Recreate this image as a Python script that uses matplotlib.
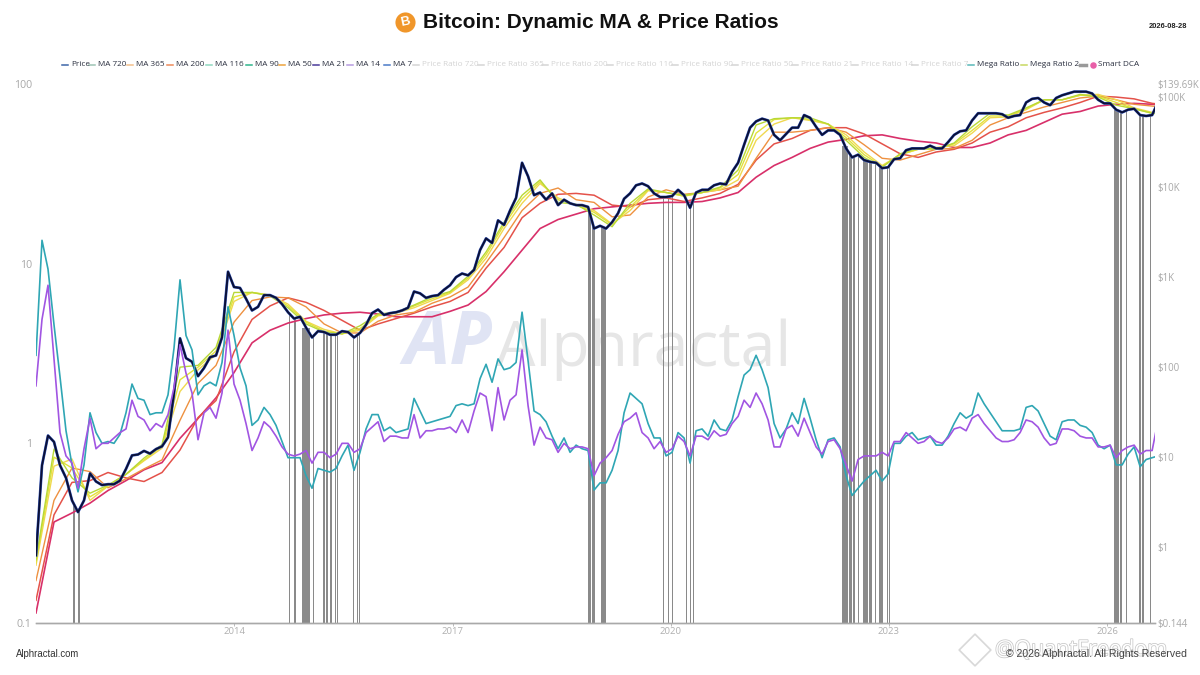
import numpy as np
import matplotlib
matplotlib.use("Agg")
import matplotlib.pyplot as plt
import matplotlib.patheffects as pe

# all price series are log10(USD), ratios are log10(ratio)
# fast series are sampled about every 30 days, the MAs about every 90 days
price_log = [
    -.09, .91, 1.24, 1.17, .91, .77, .52, .39, .52, .82, .73, .69, .70, .70, .74, .87, 1.02, 1.03, 1.07, 1.04,
    1.09, 1.12, 1.22, 1.71, 2.32, 2.10, 2.06, 1.90, 1.99, 2.11, 2.13, 2.33, 3.06, 2.89, 2.88, 2.76, 2.63, 2.67,
    2.80, 2.80, 2.77, 2.70, 2.61, 2.54, 2.56, 2.44, 2.33, 2.40, 2.39, 2.36, 2.36, 2.40, 2.39, 2.33, 2.38, 2.47,
    2.60, 2.64, 2.58, 2.60, 2.61,
    2.63, 2.66, 2.84, 2.82, 2.77, 2.79, 2.80, 2.86, 2.91, 3.00, 3.04, 3.02, 3.08, 3.30, 3.43, 3.38, 3.63, 3.58,
    3.74, 3.88, 4.27, 4.12, 3.91, 3.94, 3.86, 3.93, 3.80, 3.86, 3.82, 3.80, 3.80, 3.78, 3.54, 3.57, 3.54, 3.61,
    3.71, 3.87, 3.93, 4.02, 4.04, 4.01, 3.93, 3.89, 3.89, 3.90, 3.97, 3.91, 3.77, 3.94, 3.97, 3.97, 4.02, 4.04,
    4.03, 4.17, 4.27, 4.47, 4.66, 4.73, 4.76, 4.74, 4.58, 4.52, 4.59, 4.66, 4.66, 4.80, 4.77, 4.67, 4.58, 4.63,
    4.63, 4.58, 4.43, 4.33, 4.36, 4.30, 4.28, 4.27, 4.21, 4.22, 4.31, 4.32, 4.41, 4.43, 4.43, 4.43, 4.46, 4.43,
    4.43, 4.50, 4.58, 4.62, 4.63, 4.74, 4.82, 4.82, 4.82, 4.82, 4.81, 4.77, 4.79, 4.80, 4.94, 4.98, 4.99, 4.94,
    4.91, 4.99, 5.02, 5.04, 5.06, 5.06, 5.06, 5.04, 4.97, 4.93, 4.93, 4.86, 4.83, 4.86, 4.87, 4.80, 4.79, 4.80,
    4.95,
]
mega_ratio_log = [
    .49, 1.13, .97, .66, .37, .07, -.12, -.27, -.12, .17, .06, 0, .01, 0, .05, .17, .33, .25, .24, .16, .17, .17,
    .27, .53, .91, .60, .52, .27, .32, .34, .32, .45, .76, .60, .42, .32, .10, .13, .20, .16, .10, .01, -.08, -.08,
    -.08, -.18, -.25, -.14, -.15, -.16, -.14, -.07, -.01, -.15, -.05, .08, .16, .16, .07, .09, .06,
    .07, .08, .25, .18, .11, .12, .13, .14, .15, .21, .22, .21, .22, .36, .44, .34, .47, .41, .42, .45, .73, .46,
    .18, .16, .12, .04, -.03, .03, -.05, -.01, -.03, -.04, -.26, -.22, -.22, -.15, -.04, .17, .28, .25, .22, .11,
    .03, .03, -.07, -.05, .06, .03, -.11, .07, .08, .04, .13, .08, .07, .13, .26, .38, .41, .49, .41, .31, .11, .03,
    .08, .17, .11, .25, .14, .02, -.08, .02, .03, -.02, -.18, -.29, -.25, -.21, -.18, -.15, -.21, -.17, 0, 0, .04,
    .06, .02, .03, .04, -.01, -.01, .04, .11, .17, .14, .16, .28, .22, .17, .12, .07, .07, .07, .08, .20, .21, .18,
    .11, .04, .02, .12, .13, .13, .10, .09, .06, -.01, -.03, -.01, -.12, -.12, -.06, -.02, -.13, -.09, -.08, -.07,
]
mega_ratio_2_log = [
    .32, .69, .88, .47, .06, -.07, -.11, -.25, -.03, .14, -.03, 0, 0, .03, .06, .08, .24, .15, .13, .07, .11, .09,
    .16, .31, .55, .39, .28, .02, .17, .20, .14, .28, .63, .33, .24, .11, -.04, .03, .12, .09, .04, -.02, -.06, -.07,
    -.06, -.04, -.11, -.05, -.05, -.08, -.06, 0, 0, -.05, -.03, .06, .09, .12, .01, .04, .04,
    .03, .03, .16, .03, .07, .07, .08, .08, .09, .06, .13, .06, .18, .28, .26, .07, .31, .13, .24, .27, .52, .21,
    -.01, .09, .03, .02, -.05, 0, -.03, -.02, -.02, -.03, -.18, -.11, -.08, -.04, .05, .12, .14, .17, .06, .03,
    -.03, .01, -.05, -.03, .04, .01, -.07, .04, .04, .02, .07, .04, .05, .11, .15, .24, .20, .28, .22, .13, -.02, -.02,
    .08, .10, .04, .14, .06, -.02, -.06, .01, .02, -.03, -.12, -.21, -.09, -.07, -.07, -.07, -.05, -.07, .01, .01, .06,
    .03, 0, .01, .04, .01, 0, .03, .08, .09, .07, .14, .16, .11, .07, .03, .01, .01, .02, .06, .13, .12, .09,
    .03, -.01, 0, .08, .08, .07, .04, .03, .03, -.02, -.02, -.01, -.08, -.04, -.02, -.01, -.06, -.04, -.04, .13,
]
ma_720_log = [
    -.73, .28, .38, .49, .63, .74, .86, .94, 1.21, 1.43, 1.66, 1.94, 2.27, 2.41, 2.49, 2.54, 2.58, 2.60, 2.61, 2.59, 2.56,
    2.56, 2.56, 2.62, 2.69, 2.84, 3.06, 3.30, 3.54, 3.64, 3.70, 3.76, 3.78,
    3.80, 3.82, 3.83, 3.83, 3.84, 3.88, 3.94, 4.11, 4.24, 4.33, 4.43, 4.50, 4.53, 4.57, 4.58, 4.54, 4.51, 4.49, 4.44,
    4.44, 4.49, 4.58, 4.63, 4.72, 4.81, 4.84, 4.90, 4.92, 4.93, 4.92, 4.91,
]
ma_365_log = [
    -.59, .36, .72, .74, .83, .77, .73, .83, 1.08, 1.44, 1.63, 2.17, 2.53, 2.68, 2.77, 2.72, 2.63, 2.52, 2.41, 2.48, 2.54,
    2.60, 2.67, 2.73, 2.83, 3.10, 3.33, 3.66, 3.82, 3.92, 3.93, 3.91, 3.80,
    3.78, 3.86, 3.88, 3.84, 3.88, 3.93, 4.03, 4.30, 4.48, 4.54, 4.63, 4.66, 4.66, 4.59, 4.48, 4.37, 4.33, 4.39, 4.42,
    4.49, 4.61, 4.67, 4.77, 4.83, 4.88, 4.94, 5.01, 5.00, 4.98, 4.93, 4.91,
]
ma_200_log = [
    -.37, .52, .88, .84, .66, .76, .87, .97, 1.41, 1.82, 2.02, 2.50, 2.74, 2.78, 2.77, 2.67, 2.48, 2.38, 2.38, 2.51, 2.58,
    2.61, 2.71, 2.78, 2.89, 3.16, 3.44, 3.74, 3.93, 3.99, 3.86, 3.83, 3.67,
    3.69, 3.89, 3.97, 3.92, 3.94, 3.97, 4.01, 4.32, 4.61, 4.61, 4.63, 4.66, 4.61, 4.47, 4.32, 4.30, 4.36, 4.42, 4.43,
    4.52, 4.69, 4.77, 4.83, 4.89, 4.94, 4.99, 5.01, 4.97, 4.92, 4.90, 4.88,
]
ma_116_log = [
    -.2, .90, .98, .52, .68, .81, .96, 1.10, 1.73, 1.97, 2.14, 2.73, 2.83, 2.80, 2.70, 2.51, 2.42, 2.37, 2.41, 2.57, 2.60,
    2.66, 2.74, 2.82, 2.97, 3.21, 3.54, 3.82, 4.04, 3.88, 3.80, 3.74, 3.59,
    3.74, 3.96, 3.94, 3.90, 3.94, 3.97, 4.08, 4.52, 4.70, 4.77, 4.74, 4.70, 4.58, 4.39, 4.24, 4.36, 4.42, 4.44, 4.46,
    4.60, 4.77, 4.78, 4.86, 4.97, 4.97, 5.02, 5.03, 4.97, 4.88, 4.83, 4.82,
]
ma_90_log = [
    -.17, 1.00, .88, .56, .68, .81, .97, 1.12, 1.86, 2.00, 2.18, 2.78, 2.83, 2.80, 2.68, 2.50, 2.40, 2.37, 2.43, 2.58, 2.60,
    2.68, 2.76, 2.83, 2.99, 3.25, 3.58, 3.87, 4.06, 3.86, 3.80, 3.72, 3.58,
    3.78, 3.97, 3.94, 3.90, 3.94, 3.99, 4.14, 4.60, 4.75, 4.77, 4.75, 4.70, 4.55, 4.36, 4.23, 4.36, 4.42, 4.43, 4.48,
    4.63, 4.79, 4.79, 4.87, 4.97, 4.97, 5.02, 5.01, 4.94, 4.87, 4.82, 4.81,
]
ma_50_log = [
    -.14, 1.09, .77, .60, .69, .81, .99, 1.14, 2.00, 2.02, 2.22, 2.83, 2.83, 2.79, 2.66, 2.48, 2.39, 2.37, 2.46, 2.59, 2.61,
    2.69, 2.78, 2.84, 3.01, 3.28, 3.61, 3.91, 4.08, 3.83, 3.81, 3.69, 3.56,
    3.82, 3.98, 3.94, 3.91, 3.94, 4.00, 4.19, 4.69, 4.76, 4.77, 4.77, 4.70, 4.52, 4.33, 4.22, 4.37, 4.43, 4.42, 4.49,
    4.67, 4.82, 4.80, 4.88, 4.97, 4.97, 5.03, 5.00, 4.91, 4.87, 4.82, 4.81,
]
# smart dca buy windows, decimal years
dca_start = [2011.779, 2011.848, 2014.75, 2014.819, 2014.929, 2015.073, 2015.218, 2015.259, 2015.314, 2015.376, 2015.41,
             2015.623, 2015.678, 2015.706, 2018.863, 2018.918, 2019.042, 2019.894, 2019.963, 2020.011, 2020.204,
             2020.266, 2020.307, 2022.357, 2022.453, 2022.508, 2022.577, 2022.645, 2022.728, 2022.81, 2022.865,
             2022.976, 2023.003, 2026.098, 2026.18, 2026.256, 2026.442, 2026.483, 2026.593, 2026.627]
dca_end = [2011.80, 2011.869, 2014.764, 2014.84, 2015.039, 2015.094, 2015.245, 2015.286, 2015.341, 2015.397, 2015.424,
           2015.644, 2015.699, 2015.727, 2018.904, 2018.959, 2019.11, 2019.908, 2019.977, 2020.032, 2020.224,
           2020.28, 2020.321, 2022.439, 2022.494, 2022.535, 2022.59, 2022.714, 2022.769, 2022.824, 2022.92,
           2022.989, 2023.017, 2026.167, 2026.208, 2026.277, 2026.47, 2026.511, 2026.603, 2026.638]

left_ticks = [0.1, 1, 10, 100]
right_ticks = [0.144, 1, 10, 100, 1000, 10000, 100000, 139690]
right_labels = ["$0.144", "$1", "$10", "$100", "$1K", "$10K", "$100K", "$139.69K"]
year_ticks = [2014, 2017, 2020, 2023, 2026]

legend_names = ["Price", "MA 720", "MA 365", "MA 200", "MA 116", "MA 90", "MA 50", "MA 21", "MA 14", "MA 7",
                "Price Ratio 720", "Price Ratio 365", "Price Ratio 200", "Price Ratio 116", "Price Ratio 90",
                "Price Ratio 50", "Price Ratio 21", "Price Ratio 14", "Price Ratio 7", "Mega Ratio", "Mega Ratio 2"]
legend_colors = ["#3d66a8", "#9cc3b4", "#f3c08c", "#ee8a5a", "#8fd8c0", "#2fb58c", "#eda33c", "#4a3a9a", "#b69be0",
                 "#4a7ac8", "#d5d5d5", "#d5d5d5", "#d5d5d5", "#d5d5d5", "#d5d5d5", "#d5d5d5", "#d5d5d5", "#d5d5d5",
                 "#d5d5d5", "#58b8b8", "#c8d860"]
legend_marks = [65, 92, 130, 170, 209, 249, 282, 316, 350, 387, 416, 481, 545, 610, 675, 735, 795, 855, 915, 971, 1024]

T0, T1 = 2011.27, 2026.66
FAST, SLOW = 0.08253, 0.2476


def fast_t(vals):
    return T0 + FAST * np.arange(len(vals))


def slow_t(vals):
    return T0 + SLOW * np.arange(len(vals))


plt.rcParams['font.family'] = ['Open Sans', 'DejaVu Sans']
fig = plt.figure(figsize=(12, 6.75), dpi=100, facecolor='white')

# overlay in pixels for title, legend and the watermarks
bg = fig.add_axes([0, 0, 1, 1], zorder=0)
bg.set_xlim(0, 1200)
bg.set_ylim(675, 0)
bg.axis('off')

ax = fig.add_axes([36 / 1200, 1 - 623 / 675, 1119 / 1200, 539 / 675], zorder=3)
ax.patch.set_visible(False)
ax2 = ax.twinx()
ax2.set_zorder(2)
ax2.patch.set_visible(False)
ax.set_zorder(3)

# price scale
p = np.array(price_log)
t_p = fast_t(p)
for s, e in zip(dca_start, dca_end):
    top = 10 ** np.interp((s + e) / 2, t_p, p)
    ax2.bar(s, top - 0.144, width=e - s, bottom=0.144, align='edge', color='#8a8a8a', lw=0, zorder=1)

ma_series = [(ma_720_log, '#d8306a', 1.2), (ma_365_log, '#e4524a', 1.1), (ma_200_log, '#ee9140', 1.0),
             (ma_116_log, '#f0d850', 1.0), (ma_90_log, '#e2e23c', 1.0), (ma_50_log, '#b8d836', 1.0)]
for vals, col, lw in ma_series:
    v = np.array(vals)
    ax2.plot(slow_t(v), 10 ** v, color=col, lw=lw, zorder=3)
ax2.plot(t_p, 10 ** p, color='#3a5cc0', lw=2.0, zorder=4)
ax2.plot(t_p, 10 ** p, color='#0a1038', lw=1.4, zorder=5)

# ratio scale
m1 = np.array(mega_ratio_log)
m2 = np.array(mega_ratio_2_log)
ax.plot(fast_t(m1), 10 ** m1, color='#2fa6b4', lw=1.2, zorder=3)
ax.plot(fast_t(m2), 10 ** m2, color='#a155e2', lw=1.2, zorder=4)

ax.set_xlim(T0, T1)
ax.set_yscale('log')
ax.set_ylim(0.1, 100)
ax2.set_yscale('log')
ax2.set_ylim(0.144, 139690)

ax.set_yticks(left_ticks)
ax.set_yticklabels([str(v) for v in left_ticks])
ax.minorticks_off()
ax2.set_yticks(right_ticks)
ax2.set_yticklabels(right_labels)
ax2.minorticks_off()
ax.set_xticks(year_ticks)
ax.set_xticklabels([str(v) for v in year_ticks])
ax.tick_params(axis='y', length=0, pad=3, labelsize=7.6, labelcolor='#a8a8a8')
ax2.tick_params(axis='y', length=0, pad=2, labelsize=6.9, labelcolor='#a8a8a8')
ax.tick_params(axis='x', length=2, width=0.6, color='#b0b0b0', pad=1, labelsize=6.8, labelcolor='#b0b0b0')
for a in [ax, ax2]:
    for side in ['top', 'left', 'right']:
        a.spines[side].set_visible(False)
    a.spines['bottom'].set_color('#a9a9a9')
    a.spines['bottom'].set_linewidth(1.0)

# title row
bg.scatter([405], [22], s=210, color='#f0962a', lw=0)
bg.text(405, 22.5, "B", color='white', ha='center', va='center', fontsize=9.5, fontweight='bold',
        family='Liberation Sans', rotation=12)
bg.text(423, 22, "Bitcoin: Dynamic MA & Price Ratios", ha='left', va='center', fontsize=15, fontweight='bold',
        family='Liberation Sans', color='#111111')
bg.text(1187, 26, "2026-08-28", ha='right', va='center', fontsize=5.4, fontweight='bold',
        family='Liberation Sans', color='#222222')

# legend row
for name, col, mx in zip(legend_names, legend_colors, legend_marks):
    faded = name.startswith("Price Ratio")
    bg.plot([mx - 3, mx + 3], [64.5, 64.5], color=col, lw=1.1)
    bg.text(mx + 6, 64.5, name, ha='left', va='center', fontsize=5.9, color='#d4d4d4' if faded else '#2b3040')
bg.plot([1080, 1086], [65, 65], color='#9a9a9a', lw=2.5)
bg.scatter([1093], [64.5], s=22, color='#e85fa8', lw=0)
bg.text(1098, 64.5, "Smart DCA", ha='left', va='center', fontsize=5.9, color='#2b3040')

# watermarks
bg.text(448, 345, "AP", ha='center', va='center', fontsize=53, fontweight='bold', color='#e0e4f4', style='italic')
bg.text(644, 350, "Alphractal", ha='center', va='center', fontsize=45, color='#e6e6e6', family='Open Sans')
bg.text(16, 654, "Alphractal.com", ha='left', va='center', fontsize=6.9, family='Liberation Sans', color='#333333')
bg.scatter([975], [650], s=260, marker='D', facecolor='none', edgecolor='#d8d8d8', lw=1.2)
bg.text(995, 650, "@QuantFreedom", ha='left', va='center', fontsize=15.5, color='white',
        path_effects=[pe.withStroke(linewidth=1.1, foreground='#c8c8c8')])
bg.text(1187, 654, "\u00a9 2026 Alphractal. All Rights Reserved", ha='right', va='center', fontsize=7.6,
        family='Liberation Sans', color='#444444')

fig.savefig('out.png', dpi=100, facecolor='white')
